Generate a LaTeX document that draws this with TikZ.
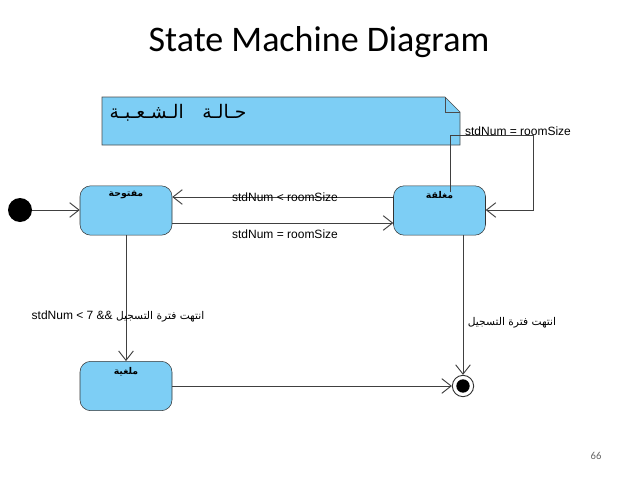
\documentclass[tikz,border=0pt]{standalone}
\usepackage{fontspec}
\setmainfont{Liberation Sans}
\newfontfamily\titlefont{Carlito}
\newfontfamily\ar[Script=Arabic]{DejaVu Sans}
\usetikzlibrary{arrows.meta}
\TeXXeTstate=1
\newcommand{\artext}[1]{{\ar\beginR #1\endR}}
\definecolor{stfill}{RGB}{125,206,245}
\begin{document}
\begin{tikzpicture}[x=0.75pt,y=-0.75pt,
  state/.style={draw=black!80,fill=stfill,rounded corners=8pt,minimum width=69pt,minimum height=37pt,inner sep=0pt},
  tr/.style={draw=black!75,line width=0.7pt,-{Straight Barb[length=7pt,width=11pt]}},
  lbl/.style={font=\fontsize{9}{10}\selectfont,inner sep=1pt}]
\useasboundingbox (0,0) rectangle (638,478);
\node (title) at (319,42) {\titlefont\fontsize{27}{30}\selectfont State Machine Diagram};
% note
\draw[black!70,fill=stfill] (102,97) -- (445,97) -- (460,112) -- (460,145) -- (102,145) -- cycle;
\draw[black!70] (445,97) -- (445,112) -- (460,112);
\node[anchor=west] (note) at (105,113) {\artext{\fontsize{14}{16}\selectfont حـالـة\quad الـشـعـبـة}};
% states
\node[fill=black,circle,minimum size=18pt,inner sep=0pt] (init) at (20,210) {};
\node[state] (open) at (126,210.5) {};
\node[state] (closed) at (439.5,210.5) {};
\node[state] (canc) at (126,386) {};
\node[font=\ar\bfseries\fontsize{7}{8}\selectfont] (openl) at (126,195) {\artext{مفتوحة}};
\node[font=\ar\bfseries\fontsize{7}{8}\selectfont] (closedl) at (439.5,195) {\artext{مغلقة}};
\node[font=\ar\bfseries\fontsize{7}{8}\selectfont] (cancl) at (126,372) {\artext{ملغية}};
\node[draw=black!80,circle,minimum size=16pt,inner sep=0pt,line width=0.7pt] (fin) at (463,386) {};
\node[fill=black,circle,minimum size=10pt,inner sep=0pt] (finc) at (fin) {};
% transitions
\draw[tr] (init) -- (open.west|-init);
\coordinate (c1) at (closed.west|-0,197);
\coordinate (o1) at (open.east|-0,197);
\draw[tr] (c1) -- (o1);
\coordinate (o2) at (open.east|-0,223);
\coordinate (c2) at (closed.west|-0,223);
\draw[tr] (o2) -- (c2);
\node[lbl] (l1) at (285,197) {stdNum < roomSize};
\node[lbl] (l2) at (285,234) {stdNum = roomSize};
\coordinate (s1) at (450,192);
\coordinate (s2) at (450,135);
\coordinate (s3) at (533,135);
\coordinate (s4) at (533,210);
\coordinate (s5) at (closed.east|-0,210);
\draw[tr] (s1) -- (s2) -- (s3) -- (s4) -- (s5);
\node[lbl] (l3) at (518,131) {stdNum = roomSize};
\draw[tr] (open.south-|126,0) -- (canc.north);
\node[lbl] (l4) at (118,316) {stdNum < 7 \&\& \artext{\fontsize{8}{9}\selectfont انتهت فترة التسجيل}};
\draw[tr] (closed.south-|463,0) -- (fin.north);
\node[lbl] (l5) at (512,323) {\artext{\fontsize{8}{9}\selectfont انتهت فترة التسجيل}};
\draw[tr] (canc.east|-fin) -- (fin.west);
\node[font=\titlefont\fontsize{8}{9}\selectfont,text=black!60] (pg) at (596,456) {66};
\end{tikzpicture}
\end{document}
